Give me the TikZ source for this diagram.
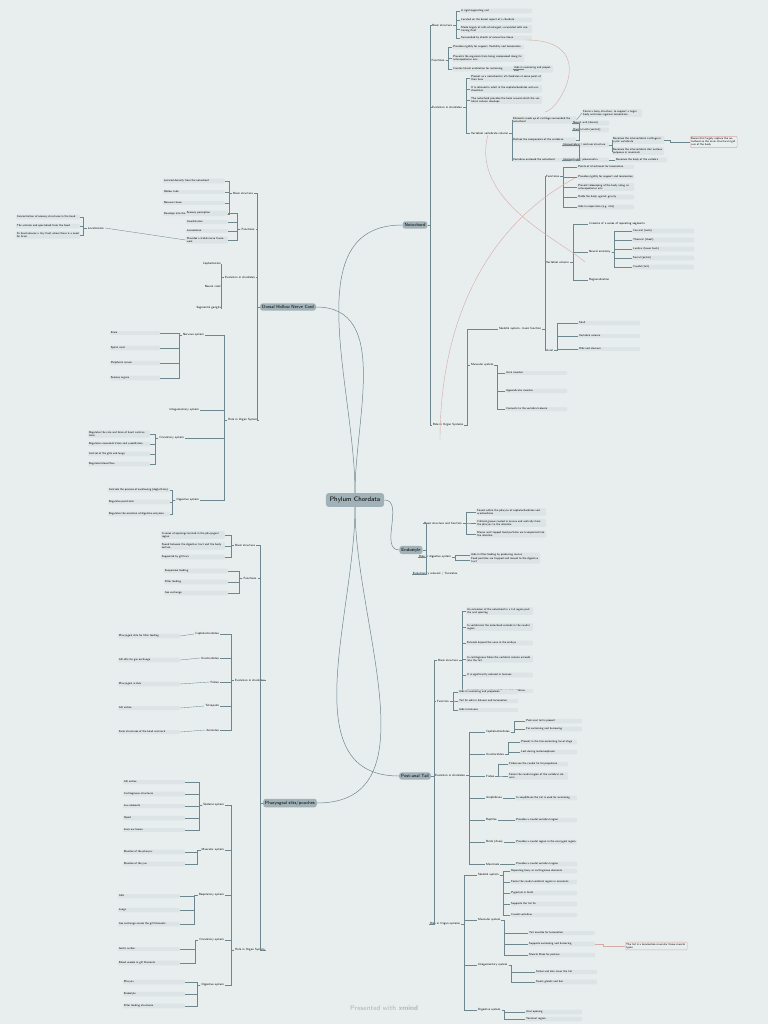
\documentclass[tikz,border=0pt]{standalone}
\usepackage{tikz}
\usetikzlibrary{positioning}
\definecolor{bg}{RGB}{232,238,238}
\definecolor{mainc}{RGB}{160,178,183}
\definecolor{leafc}{RGB}{221,228,229}
\definecolor{linec}{RGB}{110,135,142}
\definecolor{relc}{RGB}{214,170,165}
\tikzset{
  main/.style={fill=mainc, rounded corners=2.5pt, inner sep=2pt, font=\sffamily\fontsize{4.5}{5}\selectfont},
  root/.style={fill=mainc, rounded corners=3pt, inner sep=4pt, font=\sffamily\fontsize{6.5}{7}\selectfont},
  topic/.style={inner sep=1pt, font=\sffamily\fontsize{3}{3.5}\selectfont},
  leaf/.style={fill=leafc, rounded corners=1pt, inner sep=1pt, align=left, text width=#1, font=\sffamily\fontsize{2.8}{3.3}\selectfont},
  leaf/.default=70pt,
  link/.style={draw=linec, line width=0.5pt},
  twig/.style={draw=linec, line width=0.35pt},
}
\newcommand{\branchR}[2]{\draw[twig] (#1.east) -- ++(3,0) |- (#2.west);}
\newcommand{\branchL}[2]{\draw[twig] (#1.west) -- ++(-3,0) |- (#2.east);}
\begin{document}
\begin{tikzpicture}[x=1pt,y=-1pt]
\fill[bg] (0,0) rectangle (768,1024);
\useasboundingbox (0,0) rectangle (768,1024);

% central topic and main branches
\node[root] (chord) at (355,500) {Phylum Chordata};
\node[main] (noto) at (415,225) {Notochord};
\node[main] (nerve) at (288,307) {Dorsal Hollow Nerve Cord};
\node[main] (endo) at (411,550) {Endostyle};
\node[main] (phar) at (290,803) {Pharyngeal slits/pouches};
\node[main] (tail) at (415,776) {Post-anal Tail};
\draw[link] (chord.north) to[out=90,in=180] (noto.west);
\draw[link] (chord.north) to[out=90,in=0] (nerve.east);
\draw[link] (chord.east) to[out=0,in=180] (endo.west);
\draw[link] (chord.south) to[out=-90,in=0] (phar.east);
\draw[link] (chord.south) to[out=-90,in=180] (tail.west);

% Notochord
\node[topic] (n1) at (442,25) {Basic structure};
\node[topic] (n2) at (438,60) {Functions};
\node[topic] (n3) at (447,107) {Evolution in chordates};
\node[topic] (n4) at (448,425) {Role in Organ Systems};
\foreach \n in {n1,n2,n3,n4} {\draw[link] (noto.east) -- ++(3,0) |- (\n.west);}
\foreach \t [count=\i] in {A rigid supporting rod, Located on the dorsal aspect of a chordate,
  {Made largely of cells of enlarged, vacuolated cells containing fluid}, Surrounded by sheath of connective tissue}
  {\node[leaf, anchor=west] (n1-\i) at (460,{2+\i*9}) {\t}; \branchR{n1}{n1-\i}}
\foreach \t [count=\i] in {{Provides rigidity for support, flexibility and locomotion}, Prevents the organism from being compressed along its anteroposterior axis,
  Creates lateral undulation for swimming}
  {\node[leaf, anchor=west] (n2-\i) at (452,{36+\i*11}) {\t}; \branchR{n2}{n2-\i}}
\node[leaf=38pt, anchor=west] (n2-x) at (513,69) {Aids in swimming and propulsion};
\draw[twig] (n2-3.east) -- (n2-x.west);
\foreach \t [count=\i] in {Present as a notochord in all chordates at some point of their lives, It is retained in adult in the cephalochordates and urochordates,
  The notochord provides the basis around which the vertebral column develops}
  {\node[leaf, anchor=west] (n3-\i) at (470,{67+\i*11}) {\t}; \branchR{n3}{n3-\i}}
\node[topic, anchor=west] (n3-4) at (470,133) {Vertebral vertebrate column};
\branchR{n3}{n3-4}
\foreach \t [count=\i] in {Elements made up of cartilage surrounded the notochord, Defines the components of the vertebrae, Vertebrae enclosed the notochord}
  {\node[leaf=62pt, anchor=west] (n3v-\i) at (512,{100+\i*20}) {\t}; \branchR{n3-4}{n3v-\i}}
\node[leaf=58pt, anchor=west] (nv1) at (582,113) {Forms a bony structure, to support a larger body and more vigorous locomotion};
\draw[twig] (n3v-1.east) -- (nv1.west);
\node[leaf=35pt, anchor=west] (nv2) at (572,123) {Neural arch (dorsal)};
\node[leaf=35pt, anchor=west] (nv3) at (572,130) {Haemal arch (ventral)};
\branchR{n3v-2}{nv2} \branchR{n3v-2}{nv3}
\node[leaf=45pt, anchor=west] (nv4) at (562,145) {Intervertebral / centrum structure};
\node[leaf=45pt, anchor=west] (nv5) at (562,160) {Intercentrum / pleurocentra};
\branchR{n3v-3}{nv4} \branchR{n3v-3}{nv5}
\node[leaf=50pt, anchor=west] (nv6) at (612,140) {Becomes the intervertebral cartilage in cyclic vertebrate};
\node[leaf=50pt, anchor=west] (nv7) at (612,151) {Becomes the intervertebral disc nucleus pulposus in mammals};
\node[leaf=50pt, anchor=west] (nv8) at (615,160) {Becomes the body of the vertebra};
\branchR{nv4}{nv6} \branchR{nv4}{nv7} \draw[twig] (nv5.east) -- (nv8.west);
\node[leaf=45pt, draw=relc, fill=none, anchor=west] (nrel) at (690,142) {Bones that largely replace the notochord as the main structural rigid axis of the body};
\draw[twig] (nv6.east) -- ++(6,0) |- (nrel.west);
% role in organ systems
\node[topic, anchor=west] (nsk) at (498,329) {Skeletal system - basic function};
\node[topic, anchor=west] (nmu) at (470,365) {Muscular system};
\branchR{n4}{nsk} \branchR{n4}{nmu}
\node[topic, anchor=west] (nfu) at (545,176) {Functions};
\node[topic, anchor=west] (nvc) at (545,262) {Vertebral column};
\node[topic, anchor=west] (nax) at (545,350) {Axial};
\foreach \n in {nfu,nvc,nax} {\branchR{nsk}{\n}}
\foreach \t [count=\i] in {Points of attachment for locomotion, Provides rigidity for support and locomotion,
  Prevent telescoping of the body along an anteroposterior axis, Holds the body against gravity, Aids in respiration (e.g. ribs)}
  {\node[leaf=55pt, anchor=west] (nf-\i) at (577,{157+\i*10}) {\t}; \branchR{nfu}{nf-\i}}
\foreach \t [count=\i] in {Consists of a series of repeating segments, Neural anatomy, Regionalization}
  {\node[topic, anchor=west] (nvc-\i) at (588,{196+\i*28}) {\t}; \branchR{nvc}{nvc-\i}}
\foreach \t [count=\i] in {Cervical (neck), Thoracic (chest), Lumbar (lower back), Sacral (pelvis), Caudal (tail)}
  {\node[leaf=60pt, anchor=west] (nr-\i) at (632,{222+\i*9}) {\t}; \branchR{nvc-2}{nr-\i}}
\foreach \t [count=\i] in {Skull, Vertebral column, Ribs and sternum}
  {\node[leaf=60pt, anchor=west] (na-\i) at (578,{310+\i*13}) {\t}; \branchR{nax}{na-\i}}
\foreach \t [count=\i] in {Axial muscles, Appendicular muscles, Connects to the vertebral column}
  {\node[leaf=60pt, anchor=west] (nm-\i) at (505,{355+\i*18}) {\t}; \branchR{nmu}{nm-\i}}
\draw[relc, line width=0.4pt] (526,40) .. controls (600,40) and (560,110) .. (545,112);
\draw[relc, line width=0.4pt] (488,135) .. controls (470,200) and (560,240) .. (585,262);
\draw[relc, line width=0.4pt] (575,178) .. controls (480,230) and (440,330) .. (440,440);

% Dorsal hollow nerve cord
\node[topic] (d1) at (243,193) {Basic structure};
\node[topic] (d2) at (248,229) {Functions};
\node[topic] (d3) at (240,277) {Evolution in chordates};
\node[topic] (d4) at (243,420) {Role in Organ System};
\foreach \n in {d1,d2,d3,d4} {\draw[link] (nerve.west) -- ++(-3,0) |- (\n.east);}
\foreach \t [count=\i] in {Located dorsally from the notochord, Hollow tube, Nervous tissue, Develops into the brain and the spinal cord}
  {\node[leaf=60pt, anchor=east] (d1-\i) at (225,{170+\i*11}) {\t}; \branchL{d1}{d1-\i}}
\foreach \t [count=\i] in {Sensory perception, Coordination, Locomotion, Provides a stable nerve framework}
  {\node[leaf=40pt, anchor=east] (d2-\i) at (228,{204+\i*9}) {\t}; \branchL{d2}{d2-\i}}
\foreach \t [count=\i] in {Cephalization, Neural crest, Segmental ganglia}
  {\node[topic, anchor=east] (d3-\i) at (222,{242+\i*22}) {\t}; \branchL{d3}{d3-\i}}
\node[topic, anchor=east] (dlo) at (105,228) {Localization};
\draw[twig] (d2-4.west) -- (dlo.east);
\foreach \t [count=\i] in {Concentration of sensory structures in the head, The anterior end specialized from the head,
  Its head ensures a tiny front where there is a need for brain}
  {\node[leaf=62pt, anchor=east] (dl-\i) at (80,{208+\i*9}) {\t}; \branchL{dlo}{dl-\i}}
\node[topic, anchor=east] (d4a) at (205,335) {Nervous system};
\node[topic, anchor=east] (d4b) at (200,410) {Integumentary system};
\node[topic, anchor=east] (d4c) at (185,438) {Circulatory system};
\node[topic, anchor=east] (d4d) at (200,500) {Digestive system};
\foreach \n in {d4a,d4b,d4c,d4d} {\branchL{d4}{\n}}
\foreach \t [count=\i] in {Brain, Spinal cord, Peripheral nerves, Sensory organs}
  {\node[leaf=48pt, anchor=east] (da-\i) at (160,{318+\i*15}) {\t}; \branchL{d4a}{da-\i}}
\foreach \t [count=\i] in {Regulates the rate and force of heart contractions, Regulates vasoconstriction and vasodilation,
  Control of the gills and lungs, Regulates blood flow}
  {\node[leaf=60pt, anchor=east] (dc-\i) at (150,{424+\i*10}) {\t}; \branchL{d4c}{dc-\i}}
\foreach \t [count=\i] in {Controls the process of swallowing (deglutition), Regulates peristalsis, Regulates the secretion of digestive enzymes}
  {\node[leaf=60pt, anchor=east] (dd-\i) at (170,{478+\i*12}) {\t}; \branchL{d4d}{dd-\i}}

% Endostyle
\node[topic] (e1) at (443,523) {Basic structure and function};
\node[topic] (e2) at (435,557) {Role in digestive system};
\node[topic] (e3) at (435,574) {Evolutionary relevant / Tunicates};
\foreach \n in {e1,e2,e3} {\draw[link] (endo.east) -- ++(3,0) |- (\n.west);}
\foreach \t [count=\i] in {Found within the pharynx of cephalochordates and urochordates,
  Ciliated groove coated in mucus and ventrally from the pharynx to the intestine,
  Mucus and trapped food particles are transported into the intestine}
  {\node[leaf=68pt, anchor=west] (e1-\i) at (476,{501+\i*11}) {\t}; \branchR{e1}{e1-\i}}
\foreach \t [count=\i] in {Aids in filter-feeding by producing mucus, Food particles are trapped and moved to the digestive tract}
  {\node[leaf=68pt, anchor=west] (e2-\i) at (470,{550+\i*5}) {\t}; \branchR{e2}{e2-\i}}

% Post-anal tail
\node[topic] (t1) at (448,660) {Basic structure};
\node[topic] (t2) at (443,701) {Function};
\node[topic] (t3) at (450,775) {Evolution in chordates};
\node[topic] (t4) at (445,924) {Role in Organ systems};
\foreach \n in {t1,t2,t3,t4} {\draw[link] (tail.east) -- ++(3,0) |- (\n.west);}
\foreach \t [count=\i] in {An extension of the notochord in a tail region past the anal opening,
  In vertebrates the notochord extends in the caudal region, Extends beyond the anus in the embryo,
  In cartilaginous fishes the vertebral column extends into the tail, It is significantly reduced in humans,
  It consists of a number of the caudal vertebrae}
  {\node[leaf=65pt, anchor=west] (t1-\i) at (466,{595+\i*16}) {\t}; \branchR{t1}{t1-\i}}
\foreach \t [count=\i] in {Aids in swimming and propulsion, Tail fin aids in balance and locomotion, Aids in balance}
  {\node[leaf=58pt, anchor=west] (t2-\i) at (458,{683+\i*9}) {\t}; \branchR{t2}{t2-\i}}
\foreach \t [count=\i] in {Cephalochordates, Urochordates, Fishes, Amphibians, Reptiles, Birds (Aves), Mammals}
  {\node[topic, anchor=west] (t3-\i) at (485,{710+\i*22}) {\t}; \branchR{t3}{t3-\i}}
\foreach \t [count=\i] in {Skeletal system, Muscular system, Integumentary system, Digestive system}
  {\node[topic, anchor=west] (t4-\i) at (477,{830+\i*45}) {\t}; \branchR{t4}{t4-\i}}
\foreach \t [count=\i] in {Post-anal tail is present, For swimming and burrowing}
  {\node[leaf=55pt, anchor=west] (tc-\i) at (525,{713+\i*8}) {\t}; \branchR{t3-1}{tc-\i}}
\foreach \t [count=\i] in {Present in the free-swimming larval stage, Lost during metamorphosis}
  {\node[leaf=55pt, anchor=west] (tu-\i) at (520,{732+\i*10}) {\t}; \branchR{t3-2}{tu-\i}}
\foreach \t [count=\i] in {Fishes use the caudal fin for propulsion, Forms the caudal region of the vertebral column}
  {\node[leaf=58pt, anchor=west] (tf-\i) at (508,{752+\i*12}) {\t}; \branchR{t3-3}{tf-\i}}
\foreach \t [count=\i] in {In amphibians the tail is used for swimming, Provides a caudal vertebral region,
  Provides a caudal region in the coccygeal region, Provides a caudal vertebral region}
  {\node[leaf=60pt, anchor=west] (ta-\i) at (515,{776+\i*22}) {\t}; \draw[twig] (t3-\the\numexpr\i+3\relax.east) -- (ta-\i.west);}
\foreach \t [count=\i] in {Repeating bony or cartilaginous elements, Forms the caudal vertebral region in mammals,
  Pygostyle in birds, Supports the tail fin, Caudal vertebrae}
  {\node[leaf=65pt, anchor=west] (ts-\i) at (510,{860+\i*11}) {\t}; \branchR{t4-1}{ts-\i}}
\foreach \t [count=\i] in {Tail muscles for locomotion, Supports swimming and balancing, Muscle fibres for posture}
  {\node[leaf=65pt, anchor=west] (tm-\i) at (528,{922+\i*11}) {\t}; \branchR{t4-2}{tm-\i}}
\node[leaf=60pt, draw=relc, fill=none, anchor=west] (trel) at (625,946) {The tail is a locomotion muscular tissue muscle types};
\draw[relc, line width=0.4pt] (tm-2.east) -- ++(8,0) |- (trel.west);
\foreach \t [count=\i] in {Scales and skin cover the tail, Sweat glands and hair}
  {\node[leaf=60pt, anchor=west] (ti-\i) at (535,{962+\i*10}) {\t}; \branchR{t4-3}{ti-\i}}
\foreach \t [count=\i] in {Anal opening, Terminal region}
  {\node[leaf=55pt, anchor=west] (td-\i) at (525,{1005+\i*7}) {\t}; \branchR{t4-4}{td-\i}}

% Pharyngeal slits
\node[topic] (p1) at (245,545) {Basic structure};
\node[topic] (p2) at (250,578) {Functions};
\node[topic] (p3) at (250,680) {Evolution in chordates};
\node[topic] (p4) at (250,950) {Role in Organ System};
\foreach \n in {p1,p2,p3,p4} {\draw[link] (phar.west) -- ++(-3,0) |- (\n.east);}
\foreach \t [count=\i] in {A series of openings located in the pharyngeal region, Found between the digestive tract and the body surface,
  Supported by gill bars}
  {\node[leaf=62pt, anchor=east] (p1-\i) at (225,{524+\i*11}) {\t}; \branchL{p1}{p1-\i}}
\foreach \t [count=\i] in {Suspension feeding, Filter feeding, Gas exchange}
  {\node[leaf=62pt, anchor=east] (p2-\i) at (228,{560+\i*11}) {\t}; \branchL{p2}{p2-\i}}
\foreach \t [count=\i] in {Cephalochordates, Urochordates, Fishes, Tetrapods, Amniotes}
  {\node[topic, anchor=east] (p3-\i) at (220,{610+\i*24}) {\t}; \branchL{p3}{p3-\i}}
\foreach \t [count=\i] in {Pharyngeal slits for filter feeding, Gill slits for gas exchange, Pharyngeal arches, Gill arches, Form structures of the head and neck}
  {\node[leaf=60pt, anchor=east] (pe-\i) at (180,{612+\i*24}) {\t}; \draw[twig] (p3-\i.west) -- (pe-\i.east);}
\foreach \t [count=\i] in {Skeletal system, Muscular system, Respiratory system, Circulatory system, Digestive system}
  {\node[topic, anchor=east] (p4-\i) at (225,{760+\i*45}) {\t}; \branchL{p4}{p4-\i}}
\foreach \t [count=\i] in {Gill arches, Cartilaginous structures, Jaw elements, Hyoid, Inner ear bones}
  {\node[leaf=60pt, anchor=east] (ps-\i) at (185,{770+\i*12}) {\t}; \branchL{p4-1}{ps-\i}}
\foreach \t [count=\i] in {Muscles of the pharynx, Muscles of the jaw}
  {\node[leaf=60pt, anchor=east] (pm-\i) at (185,{840+\i*12}) {\t}; \branchL{p4-2}{pm-\i}}
\foreach \t [count=\i] in {Gills, Lungs, Gas exchange across the gill filaments}
  {\node[leaf=60pt, anchor=east] (pr-\i) at (180,{882+\i*14}) {\t}; \branchL{p4-3}{pr-\i}}
\foreach \t [count=\i] in {Aortic arches, Blood vessels in gill filaments}
  {\node[leaf=60pt, anchor=east] (pc-\i) at (180,{935+\i*14}) {\t}; \branchL{p4-4}{pc-\i}}
\foreach \t [count=\i] in {Pharynx, Endostyle, Filter feeding structures}
  {\node[leaf=60pt, anchor=east] (pd-\i) at (185,{970+\i*12}) {\t}; \branchL{p4-5}{pd-\i}}

\node[font=\fontsize{7}{8}\selectfont\sffamily, text=black!30] (foot) at (384,1008) {Presented with \textbf{xmind}};
\end{tikzpicture}
\end{document}
